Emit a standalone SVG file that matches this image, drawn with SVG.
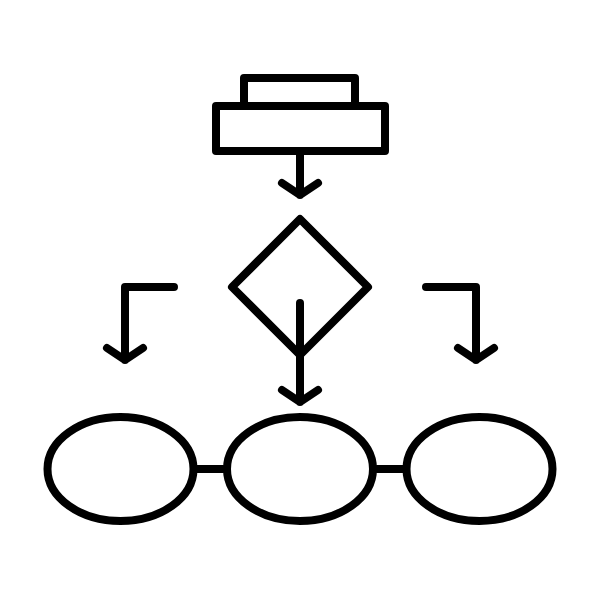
<svg xmlns="http://www.w3.org/2000/svg" width="600" height="600" viewBox="0 0 600 600">
<style>
.s{fill:none;stroke:#000;stroke-width:8;stroke-linecap:round;stroke-linejoin:round}
</style>
<rect width="600" height="600" fill="#fff"/>
<g id="process">
<rect class="s" x="244" y="78" width="111" height="28"/>
<rect class="s" x="216" y="106" width="169" height="45"/>
</g>
<g id="decision">
<polygon class="s" points="300,219 368,287 300,355 232,287"/>
</g>
<g id="out-left"><ellipse class="s" cx="120.5" cy="469" rx="73" ry="52"/></g>
<g id="out-middle"><ellipse class="s" cx="300" cy="469" rx="73" ry="52"/></g>
<g id="out-right"><ellipse class="s" cx="479.5" cy="469" rx="73" ry="52"/></g>
<g id="connectors">
<path class="s" d="M300,151V195M282,183L300,195L318,183"/>
<path class="s" d="M300,303V402M282,390L300,402L318,390"/>
<path class="s" d="M174,287H125V360M107,348L125,360L143,348"/>
<path class="s" d="M426,287H476V360M458,348L476,360L494,348"/>
<path class="s" d="M197,469H223M377,469H403"/>
</g>
</svg>
